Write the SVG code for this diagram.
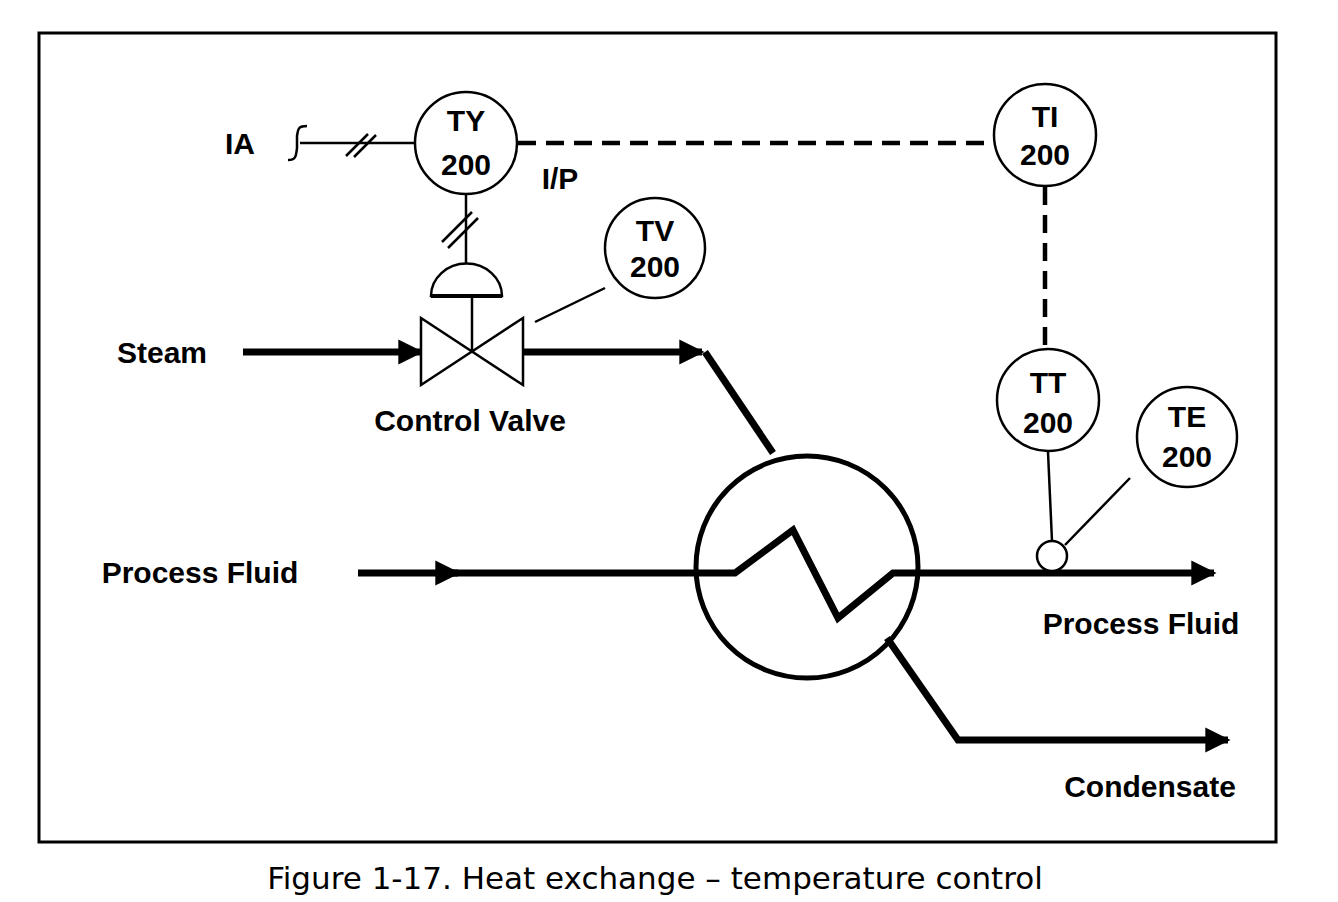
<svg xmlns="http://www.w3.org/2000/svg" width="1338" height="902" viewBox="0 0 1338 902">
<style>
text{font-family:"Liberation Sans",Arial,sans-serif;font-weight:bold;font-size:30px;text-anchor:middle;fill:#000}
.cap{font-family:"DejaVu Sans","Noto Sans",sans-serif;font-weight:normal;font-size:31px}
.inst{fill:#fff;stroke:#000;stroke-width:2.5}
.pipe{fill:none;stroke:#000;stroke-width:7}
.thin{fill:none;stroke:#000;stroke-width:2.5}
.dash{fill:none;stroke:#000;stroke-width:4.5;stroke-dasharray:18,10}
</style>
<defs>
<marker id="ah" viewBox="0 0 10 10" refX="9" refY="5" markerWidth="4" markerHeight="3.6" orient="auto" markerUnits="strokeWidth"><path d="M0,0L10,5L0,10z" fill="#000"/></marker>
</defs>
<rect width="1338" height="902" fill="#fff"/>
<rect x="39" y="33" width="1237" height="809" fill="none" stroke="#000" stroke-width="3"/>
<g id="connectors">
<line class="dash" x1="518" y1="143" x2="993" y2="143"/>
<line class="dash" x1="1045" y1="187" x2="1045" y2="348"/>
<path class="thin" d="M300,143H414"/>
<path class="thin" d="M288,160c8,0 8,-4 9,-12v-12c1,-8 2,-10 10,-10" stroke-width="4"/>
<path class="thin" d="M346,156l22,-22M354,157l22,-22"/>
<path class="thin" d="M466,195V263"/>
<path class="thin" d="M442,242l30,-30M448,248l30,-30"/>
<path class="thin" d="M535,322L605,288"/>
<path class="pipe" d="M243,352H421" marker-end="url(#ah)"/>
<path class="pipe" d="M522,352H702" marker-end="url(#ah)"/>
<path class="pipe" d="M705,352L773,453"/>
<path class="pipe" d="M358,573H458" marker-end="url(#ah)"/>
<path class="pipe" d="M440,573H735L793,530L838,618L893,573H1214" marker-end="url(#ah)"/>
<path class="pipe" d="M887,638L958,740H1228" marker-end="url(#ah)"/>
<path class="thin" d="M1048,452L1052,541M1130,478L1065,545"/>
</g>
<g id="heat-exchanger"><circle cx="807" cy="567" r="111" fill="none" stroke="#000" stroke-width="5"/></g>
<g id="sensor"><circle cx="1052" cy="556" r="15" class="inst"/></g>
<g id="control-valve">
<path d="M421,318L523,385V318L421,385Z" fill="#fff" stroke="#000" stroke-width="2.5" stroke-linejoin="miter"/>
<path class="thin" d="M472,352V296" stroke-width="4"/>
<path d="M431,296A35,32 0 0 1 502,296Z" fill="#fff" stroke="#000" stroke-width="2.5"/>
<path d="M431,296H502" stroke="#000" stroke-width="4"/>
</g>
<g id="TY"><circle class="inst" cx="466" cy="143" r="51"/><text x="466" y="131">TY</text><text x="466" y="175">200</text></g>
<g id="TI"><circle class="inst" cx="1045" cy="135" r="51"/><text x="1045" y="127">TI</text><text x="1045" y="165">200</text></g>
<g id="TV"><circle class="inst" cx="655" cy="248" r="50"/><text x="655" y="241">TV</text><text x="655" y="277">200</text></g>
<g id="TT"><circle class="inst" cx="1048" cy="400" r="51"/><text x="1048" y="393">TT</text><text x="1048" y="433">200</text></g>
<g id="TE"><circle class="inst" cx="1187" cy="437" r="50"/><text x="1187" y="427">TE</text><text x="1187" y="467">200</text></g>
<g id="labels">
<text x="240" y="154">IA</text>
<text x="560" y="189">I/P</text>
<text x="162" y="363">Steam</text>
<text x="470" y="431">Control Valve</text>
<text x="200" y="583">Process Fluid</text>
<text x="1141" y="634">Process Fluid</text>
<text x="1150" y="797">Condensate</text>
<text class="cap" x="655" y="889">Figure 1-17. Heat exchange – temperature control</text>
</g>
</svg>
